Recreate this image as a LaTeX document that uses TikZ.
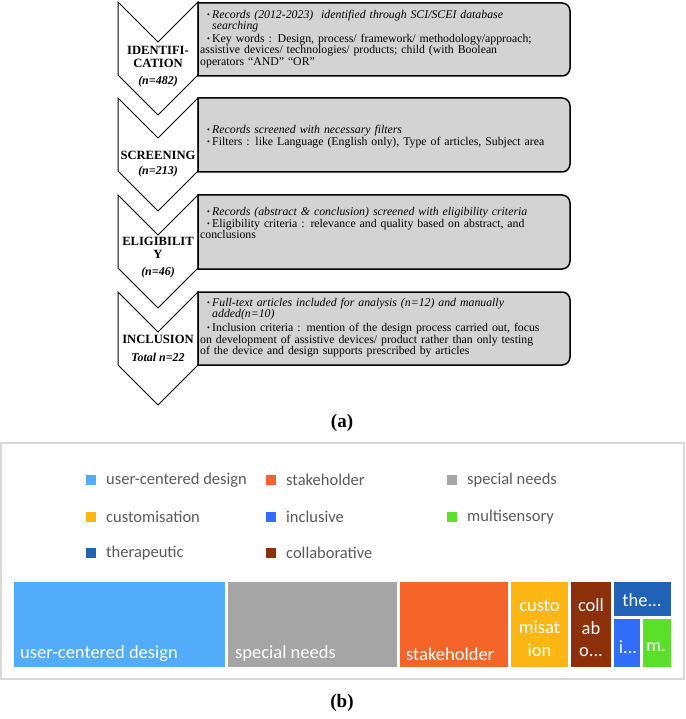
\documentclass[tikz,border=0pt]{standalone}
\usepackage{fontspec}
\setmainfont{Liberation Serif}
\newfontfamily\chartfont{Carlito}
\definecolor{boxgray}{RGB}{211,211,211}
\definecolor{leggray}{RGB}{89,89,89}
\definecolor{framegray}{RGB}{217,217,217}
\definecolor{ucdblue}{RGB}{82,172,249}
\definecolor{needgray}{RGB}{165,165,165}
\definecolor{stakeorange}{RGB}{245,100,40}
\definecolor{custyellow}{RGB}{253,183,20}
\definecolor{collbrown}{RGB}{140,48,10}
\definecolor{therablue}{RGB}{31,98,182}
\definecolor{inclblue}{RGB}{48,110,250}
\definecolor{multigreen}{RGB}{90,224,40}
% bullet with hanging indent, and bullet without
\newcommand{\bitem}[1]{\par\hangindent=12pt\hangafter=1\noindent\hspace*{7pt}\makebox[5pt][l]{\raisebox{1pt}{\fontsize{8}{8}\selectfont\textbullet}}#1}
\newcommand{\pitem}[1]{\par\noindent\hspace*{7pt}\makebox[5pt][l]{\raisebox{1pt}{\fontsize{8}{8}\selectfont\textbullet}}#1}
\tikzset{
  chevron/.style={draw=black, line width=1pt, fill=white},
  stepbox/.style={draw=black, line width=1.5pt, fill=boxgray},
  steplabel/.style={font=\fontsize{12.6}{12.5}\selectfont\bfseries, align=center, inner sep=0pt},
  stepcount/.style={font=\fontsize{12}{12}\selectfont\bfseries\itshape, inner sep=0pt},
  boxtext/.style={anchor=north west, inner sep=0pt, text width=366pt, align=left,
    font=\fontsize{11.8}{11.2}\selectfont},
  legkey/.style={minimum size=10pt, inner sep=0pt},
  legtext/.style={anchor=west, inner sep=0pt, text=leggray, font=\chartfont\fontsize{16.5}{17}\selectfont},
  celltext/.style={text=white, inner sep=0pt, align=center, font=\chartfont\fontsize{18.5}{22.5}\selectfont}
}
\begin{document}
\begin{tikzpicture}[x=1pt,y=-1pt]
   \useasboundingbox (0,0) rectangle (685,719);
   % (a) steps
   \draw[chevron] (118,2) -- (158,42) -- (198,2) -- (198,75) -- (158,115) -- (118,75) -- cycle;
   \draw[chevron] (118,98) -- (158,138) -- (198,98) -- (198,171) -- (158,211) -- (118,171) -- cycle;
   \draw[chevron] (118,195) -- (158,235) -- (198,195) -- (198,268) -- (158,308) -- (118,268) -- cycle;
   \draw[chevron] (118,292) -- (158,332) -- (198,292) -- (198,365) -- (158,405) -- (118,365) -- cycle;
   \draw[stepbox] (198,3) {[rounded corners=8pt] -- (570,3) -- (570,76)} -- (198,76) -- cycle;
   \draw[stepbox] (198,98) {[rounded corners=8pt] -- (570,98) -- (570,172)} -- (198,172) -- cycle;
   \draw[stepbox] (198,195) {[rounded corners=8pt] -- (570,195) -- (570,269)} -- (198,269) -- cycle;
   \draw[stepbox] (198,292) {[rounded corners=8pt] -- (570,292) -- (570,365)} -- (198,365) -- cycle;
   \node[steplabel] (ident) at (158,57) {IDENTIFI-\\CATION};
   \node[stepcount] (identn) at (158,82) {(n=482)};
   \node[steplabel] (screen) at (158,155) {SCREENING};
   \node[stepcount] (screenn) at (158,172) {(n=213)};
   \node[steplabel] (elig) at (158,248) {ELIGIBILIT\\Y};
   \node[stepcount] (elign) at (158,273) {(n=46)};
   \node[steplabel] (incl) at (158,339) {INCLUSION};
   \node[stepcount] (incln) at (158,357) {Total n=22};
   \node[boxtext] (identtext) at (200,7) {\bitem{\textit{Records (2012-2023)~ identified through SCI/SCEI database\newline searching}}\par\vspace{2pt}
     \pitem{Key words : Design, process/ framework/ methodology/approach;\newline assistive devices/ technologies/ products; child (with Boolean\newline operators “AND” “OR”}};
   \node[boxtext] (screentext) at (200,122) {\bitem{\textit{Records screened with necessary filters}}\par\vspace{1pt}
     \pitem{Filters : like Language (English only), Type of articles, Subject area}};
   \node[boxtext] (eligtext) at (200,204) {\bitem{\textit{Records (abstract \& conclusion) screened with eligibility criteria}}\par\vspace{1pt}
     \pitem{Eligibility criteria : relevance and quality based on abstract, and\newline conclusions}};
   \node[boxtext] (incltext) at (200,295) {\bitem{\textit{Full-text articles included for analysis (n=12) and manually\newline added(n=10)}}\par\vspace{3pt}
     \pitem{Inclusion criteria : mention of the design process carried out, focus\newline on development of assistive devices/ product rather than only testing\newline of the device and design supports prescribed by articles}};
   \node[font=\fontsize{19}{19}\selectfont\bfseries] (capa) at (342,423) {(a)};
   % (b) treemap
   \draw[framegray, line width=1.5pt] (1,443) rectangle (684,679);
   \node[legkey, fill=ucdblue] (kucd) at (90.5,480) {};
   \node[legtext] (lucd) at (106,480) {user-centered design};
   \node[legkey, fill=stakeorange] (kstake) at (270.5,480) {};
   \node[legtext] (lstake) at (286,480) {stakeholder};
   \node[legkey, fill=needgray] (kneed) at (451.5,480) {};
   \node[legtext] (lneed) at (467,480) {special needs};
   \node[legkey, fill=custyellow] (kcust) at (90.5,517) {};
   \node[legtext] (lcust) at (106,517) {customisation};
   \node[legkey, fill=inclblue] (kincl) at (270.5,517) {};
   \node[legtext] (lincl) at (286,517) {inclusive};
   \node[legkey, fill=multigreen] (kmulti) at (451.5,517) {};
   \node[legtext] (lmulti) at (467,517) {multisensory};
   \node[legkey, fill=therablue] (kthera) at (90.5,553) {};
   \node[legtext] (lthera) at (106,553) {therapeutic};
   \node[legkey, fill=collbrown] (kcoll) at (270.5,553) {};
   \node[legtext] (lcoll) at (286,553) {collaborative};
   \fill[ucdblue] (14,582) rectangle (225,667);
   \fill[needgray] (228,582) rectangle (397,667);
   \fill[stakeorange] (400,582) rectangle (508,667);
   \fill[custyellow] (511,582) rectangle (568,667);
   \fill[collbrown] (571,582) rectangle (611,667);
   \fill[therablue] (614,582) rectangle (671,616);
   \fill[inclblue] (614,619) rectangle (640,667);
   \fill[multigreen] (643,619) rectangle (671,667);
   \node[celltext, anchor=west] (tucd) at (20,654) {user-centered design};
   \node[celltext, anchor=west] (tneed) at (235,654) {special needs};
   \node[celltext, anchor=west] (tstake) at (406,654) {stakeholder};
   \node[celltext] (tcust) at (539.5,628) {custo\\misat\\ion};
   \node[celltext] (tcoll) at (591,628) {coll\\ab\\o...};
   \node[celltext] (tthera) at (642,600) {the...};
   \node[celltext] (tincl) at (628,647) {i...};
   \node[celltext] (tmulti) at (656,647) {m.};
   \node[font=\fontsize{19}{19}\selectfont\bfseries] (capb) at (342,703) {(b)};
 \end{tikzpicture}
\end{document}
